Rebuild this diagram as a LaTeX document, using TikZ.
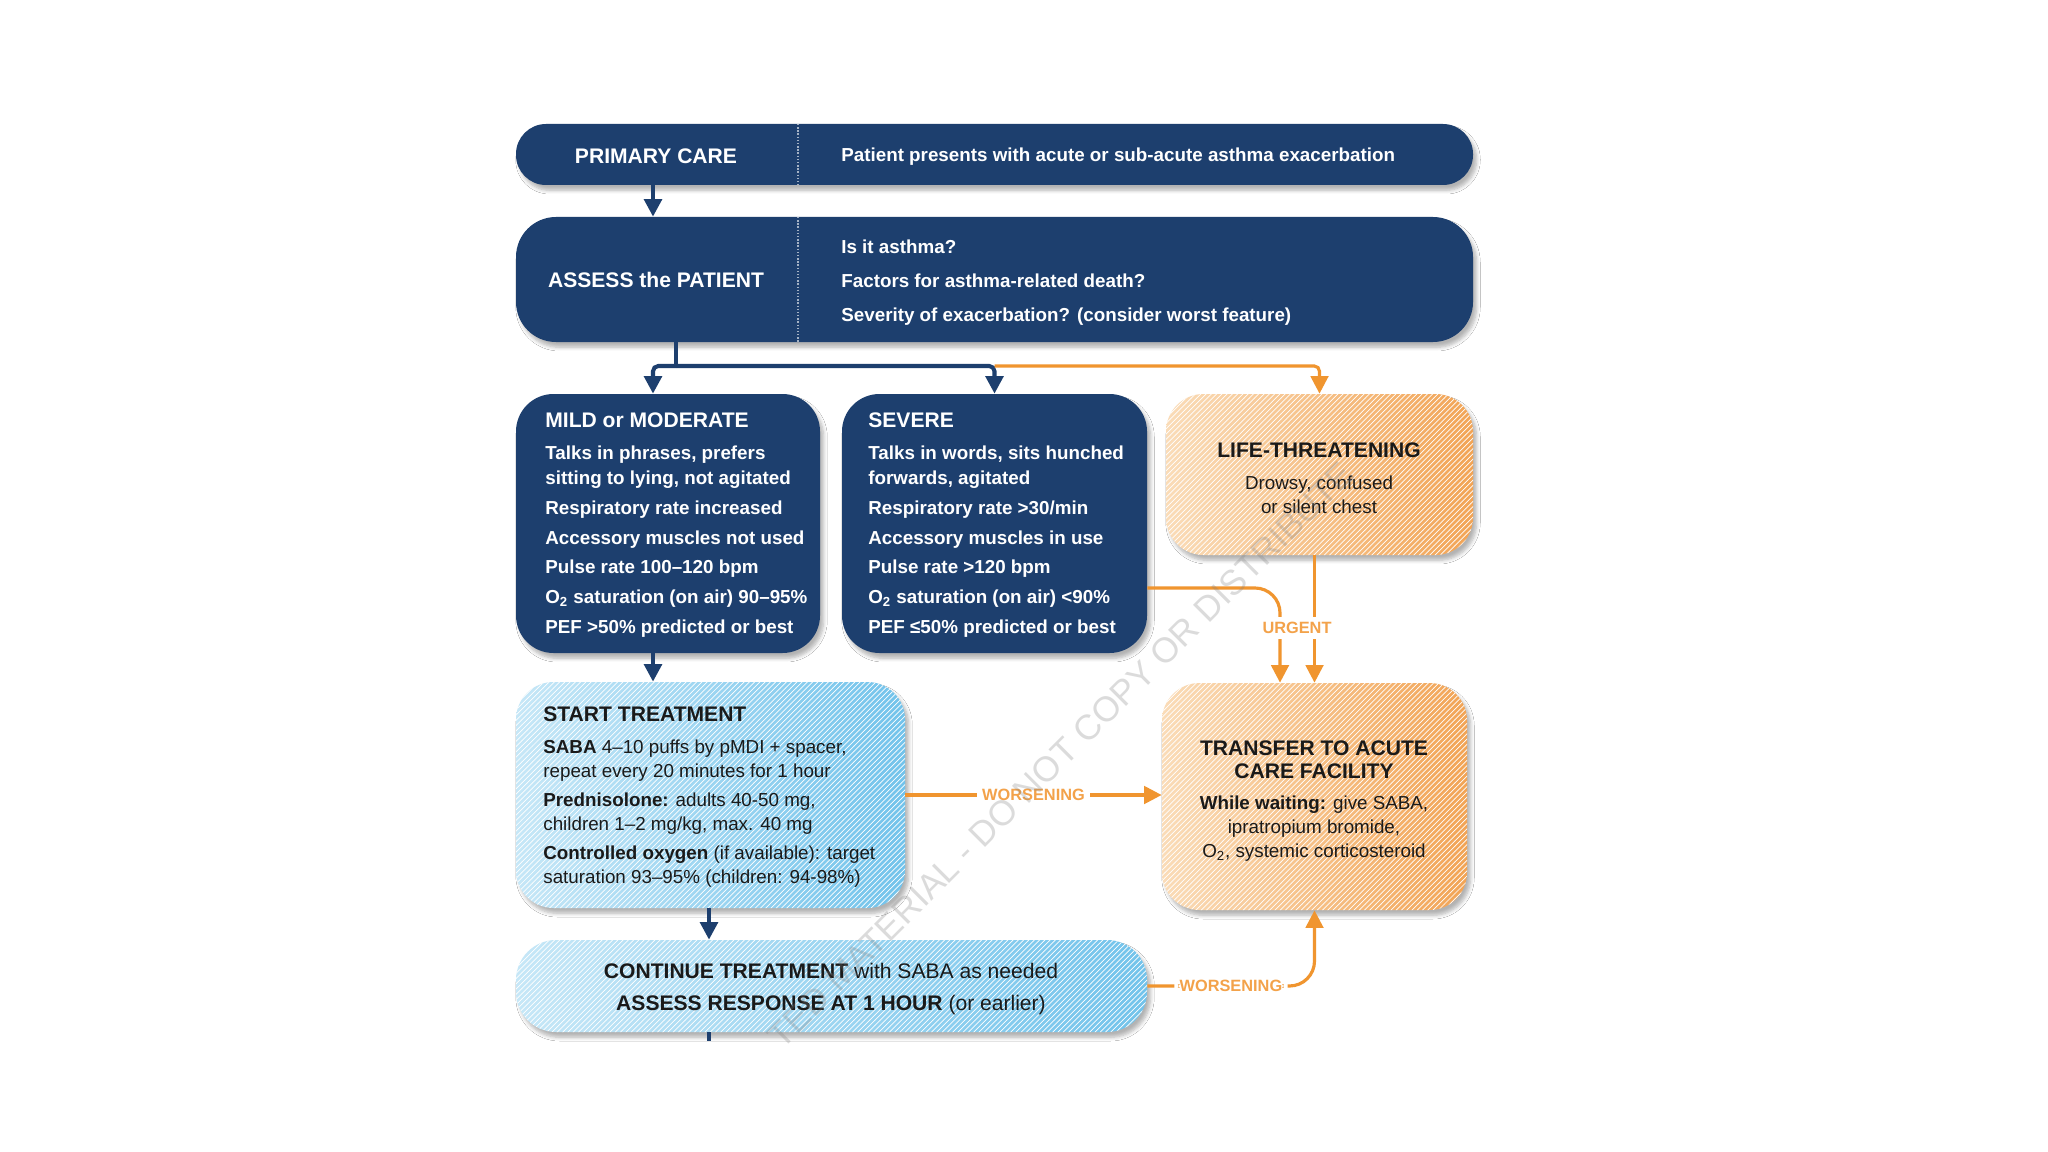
\documentclass[tikz,border=0pt]{standalone}
\usepackage{fontspec}
\setmainfont{Liberation Sans}
\usetikzlibrary{arrows.meta,fit,patterns,shadows.blur}

\definecolor{navy}{HTML}{1D3F6E}
\definecolor{skyL}{HTML}{C6E7F7}
\definecolor{skyR}{HTML}{72C3EB}
\definecolor{peachL}{HTML}{FADCB8}
\definecolor{peachR}{HTML}{F2A455}
\definecolor{amber}{HTML}{F0952F}
\definecolor{amberT}{HTML}{F3A24A}
\definecolor{ink}{HTML}{1A1A1A}

\newcommand{\hdfont}{\fontsize{12}{14}\selectfont}
\newcommand{\txtfont}{\fontsize{10.7}{14.1}\selectfont}

\begin{document}
\begin{tikzpicture}[x=0.02cm, y=-0.02cm,
    box/.style={inner sep=0pt, rounded corners=0.75cm,
      blur shadow={shadow xshift=2pt, shadow yshift=-3pt, shadow blur steps=6, shadow opacity=30}},
    darkbox/.style={box, fill=navy},
    hatch/.style={postaction={fill opacity=0.28, pattern=north east lines, pattern color=white}},
    skybox/.style={box, left color=skyL, right color=skyR, hatch},
    peachbox/.style={box, left color=peachL, right color=peachR, hatch},
    wtxt/.style={text=white, font=\bfseries\txtfont, inner sep=0pt, align=left},
    ktxt/.style={text=ink, font=\txtfont, inner sep=0pt},
    navyline/.style={draw=navy, line width=2.3pt},
    navyarrow/.style={navyline, -{Triangle[width=10pt,length=10pt]}},
    amberline/.style={draw=amber, line width=1.8pt},
    amberarrow/.style={amberline, -{Triangle[width=10pt,length=10pt]}},
    worse/.style={fill=white, text=amberT, font=\bfseries\fontsize{9.3}{11}\selectfont, inner sep=3pt}
]
    \fill[white] (0,0) rectangle (2048,1152);
    \useasboundingbox (0,0) rectangle (2048,1152);

    % header bars
    \node[darkbox, rounded corners=0.6cm, fit={(516,124) (1473,185)}] (primary) {};
    \node[darkbox, rounded corners=0.8cm, fit={(516,217) (1473,342)}] (assess) {};
    \draw[white, densely dotted, opacity=.6, line width=0.8pt] (798,124) -- (798,185) (798,217) -- (798,342);
    \node[wtxt, font=\bfseries\hdfont] (primaryhd) at (656,156) {PRIMARY CARE};
    \node[wtxt, anchor=west] (primarytxt) at (841,157) {Patient presents with acute or sub-acute asthma exacerbation};
    \node[wtxt, font=\bfseries\hdfont] (assesshd) at (656,280) {ASSESS the PATIENT};
    \node[wtxt, anchor=west, font=\bfseries\fontsize{10.7}{19.3}\selectfont] (assesstxt) at (841,283)
        {Is it asthma?\\Factors for asthma-related death?\\Severity of exacerbation? (consider worst feature)};

    % severity
    \node[darkbox, fit={(516,394) (820,653)}] (mild) {};
    \node[darkbox, fit={(842,394) (1147,653)}] (severe) {};
    \node[peachbox, fit={(1166,394) (1473,555)}] (life) {};
    \node[wtxt, anchor=north west] (mildtxt) at (545,412) {{\hdfont MILD or MODERATE}\\[4.4pt]
        Talks in phrases, prefers\\sitting to lying, not agitated\\[2.9pt]
        Respiratory rate increased\\[2.9pt]
        Accessory muscles not used\\[2.9pt]
        Pulse rate 100–120 bpm\\[2.9pt]
        O\textsubscript{2} saturation (on air) 90–95\%\\[2.9pt]
        PEF >50\% predicted or best};
    \node[wtxt, anchor=north west] (severetxt) at (868,412) {{\hdfont SEVERE}\\[4.4pt]
        Talks in words, sits hunched\\forwards, agitated\\[2.9pt]
        Respiratory rate >30/min\\[2.9pt]
        Accessory muscles in use\\[2.9pt]
        Pulse rate >120 bpm\\[2.9pt]
        O\textsubscript{2} saturation (on air) <90\%\\[2.9pt]
        PEF ≤50\% predicted or best};
    \node[ktxt, align=center, anchor=north] (lifetxt) at (1319,442) {{\bfseries\hdfont LIFE-THREATENING}\\[4.5pt]
        Drowsy, confused\\[-0.8pt]or silent chest};

    % treatment
    \node[skybox, fit={(516,682) (905,908)}] (start) {};
    \node[peachbox, fit={(1162,683) (1467,910)}] (transfer) {};
    \node[skybox, rounded corners=0.8cm, fit={(516,940) (1147,1032)}] (cont) {};
    \node[ktxt, align=left, anchor=north west] (starttxt) at (543,706) {{\bfseries\hdfont START TREATMENT}\\[4.4pt]
        \textbf{SABA} 4–10 puffs by pMDI + spacer,\\[-0.4pt]repeat every 20 minutes for 1 hour\\[2.4pt]
        \textbf{Prednisolone:} adults 40-50 mg,\\[-0.4pt]children 1–2 mg/kg, max. 40 mg\\[2.4pt]
        \textbf{Controlled oxygen} (if available): target\\[-0.4pt]saturation 93–95\% (children: 94-98\%)};
    \node[ktxt, align=center, anchor=north] (transfertxt) at (1314,740) {{\bfseries\hdfont TRANSFER TO ACUTE}\\[-1pt]
        {\bfseries\hdfont CARE FACILITY}\\[3.7pt]
        \textbf{While waiting:} give SABA,\\[-0.3pt]ipratropium bromide,\\[-0.3pt]O\textsubscript{2}, systemic corticosteroid};
    \node[ktxt, align=center, font=\fontsize{12}{18}\selectfont] (conttxt) at (831,989)
        {\textbf{CONTINUE TREATMENT} with SABA as needed\\\textbf{ASSESS RESPONSE AT 1 HOUR} (or earlier)};

    % arrows
    \coordinate (x1) at (653,0);
    \coordinate (x2) at (709,1041);
    \coordinate (split) at (676,366);
    \coordinate (urgent) at (1280,588);
    \draw[navyarrow] (primary.south -| x1) -- (assess.north -| x1);
    \draw[navyline] (assess.south -| split) -- (split);
    \draw[navyarrow, rounded corners=3pt] (split) -| (mild.north -| x1);
    \draw[navyarrow, rounded corners=3pt] (split) -| (severe.north);
    \draw[amberarrow, rounded corners=3pt] (split -| severe.north) -| (life.north);
    \draw[navyarrow] (mild.south -| x1) -- (start.north -| x1);
    \draw[navyarrow] (start.south -| x2) -- (cont.north -| x2);
    \draw[navyline] (cont.south -| x2) -- (x2);

    \draw[amberarrow, rounded corners=0.5cm] (severe.east |- urgent) -- (urgent) -- (transfer.north -| urgent);
    \draw[amberarrow] (life.south -| transfer.north) -- (transfer.north);
    \node[worse] (urgentlbl) at (1297,628) {URGENT};
    \draw[amberarrow] (start.east) -- node[worse] (worse1) {WORSENING} (start.east -| transfer.west);
    \draw[amberarrow, rounded corners=0.5cm] (cont.east) -- node[worse] (worse2) {WORSENING}
        (cont.east -| transfer.south) -- (transfer.south);

    % watermark
    \node[rotate=45, text=gray, opacity=.28, font=\fontsize{20}{22}\selectfont] (mark) at (1061,755)
        {TED MATERIAL - DO NOT COPY OR DISTRIBUTE};
\end{tikzpicture}
\end{document}
